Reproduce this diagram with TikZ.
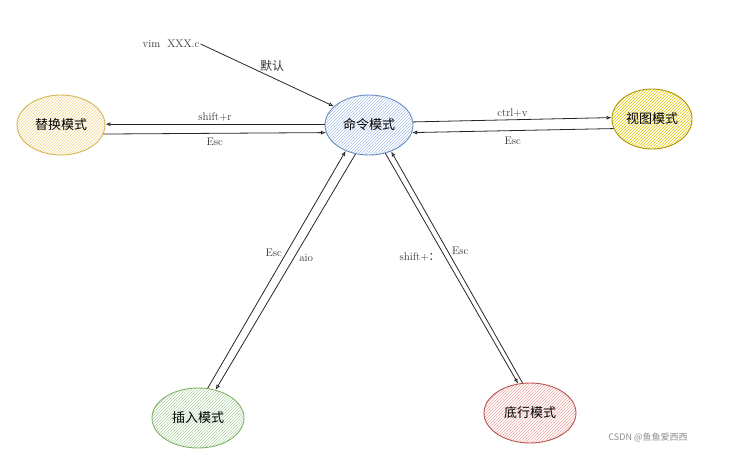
\documentclass[tikz,border=0pt]{standalone}
\usepackage{fontspec}
\newfontfamily\cjk{Noto Sans CJK SC}
\usetikzlibrary{shapes.geometric,arrows.meta,patterns,calc}
\definecolor{yEdge}{HTML}{D6B656}\definecolor{yFill}{HTML}{EFD58A}
\definecolor{bEdge}{HTML}{6C8EBF}\definecolor{bFill}{HTML}{A9C1E6}
\definecolor{vEdge}{HTML}{B09500}\definecolor{vFill}{HTML}{E3C800}
\definecolor{gEdge}{HTML}{82B366}\definecolor{gFill}{HTML}{AED2A2}
\definecolor{rEdge}{HTML}{B85450}\definecolor{rFill}{HTML}{EDA9A5}
\tikzset{
  mode/.style={ellipse,draw=#1Edge,line width=0.9pt,pattern=north east lines,pattern color=#1Fill,
    minimum width=88pt,minimum height=60pt,inner sep=0pt,font=\cjk\fontsize{13}{13}\selectfont},
  arr/.style={draw=black!85,line width=0.8pt,-{Latex[open,length=5pt,width=4pt]}},
  lab/.style={font=\fontsize{11}{11}\selectfont,text=black!80,inner sep=1pt}
}
\begin{document}
\begin{tikzpicture}[x=1pt,y=-1pt]
\useasboundingbox (0,0) rectangle (738,467);
\node[mode=y] (rep) at (61,125) {替换模式};
\node[mode=b] (cmd) at (369,125) {命令模式};
\node[mode=v,minimum width=80pt] (view) at (652,119) {视图模式};
\node[mode=g,minimum width=92pt] (ins) at (198,418) {插入模式};
\node[mode=r,minimum width=92pt] (bot) at (530,413) {底行模式};
\node[lab] (vim) at (171,44) {vim\ \ XXX.c};
\node[lab,font=\cjk\fontsize{12}{12}\selectfont] at (272,66) {默认};
\draw[arr] (vim.east) -- (cmd.152);
\draw[arr] (cmd.179) -- node[lab,above=1pt]{shift+r} (rep.1);
\draw[arr] (rep.-12) -- node[lab,below=3pt]{Esc} (cmd.-170);
\draw[arr] (cmd.4) -- node[lab,above=1pt]{ctrl+v} (view.178);
\draw[arr] (view.194) -- node[lab,below=5pt]{Esc} (cmd.-10);
\draw[arr] (ins.72) -- node[lab,pos=0.57,left=3pt]{Esc} (cmd.-132);
\draw[arr] (cmd.-115) -- node[lab,pos=0.44,right=4pt]{aio} (ins.58);
\draw[arr] (cmd.-60) -- node[lab,pos=0.45,left=4pt]{shift+{\cjk ：}} (bot.112);
\draw[arr] (bot.104) -- node[lab,pos=0.57,right=3pt]{Esc} (cmd.-50);
\node[font=\cjk\fontsize{9}{9}\selectfont,text=black!45] (wm) at (648,437) {CSDN @鱼鱼爱西西};
\end{tikzpicture}
\end{document}
